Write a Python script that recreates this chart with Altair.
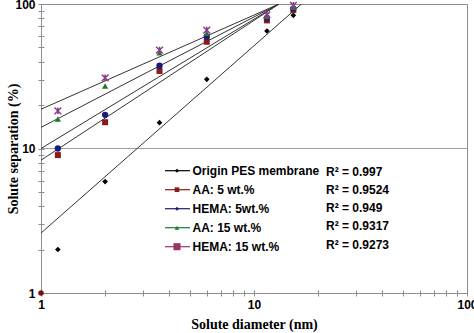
import altair as alt
import pandas as pd

# ---- data ----
sizes = [1.2, 2.0, 3.6, 6.0, 11.5, 15.3]
pes = [2.0, 5.9, 15.1, 30.1, 65.0, 83.5]
aa5 = [9.0, 15.2, 34.4, 54.8, 77.0, 91.0]
hema5 = [10.0, 17.1, 37.4, 59.4, 80.0, 93.0]
aa15 = [16.0, 27.1, 46.0, 62.7, 82.0, 95.0]
hema15 = [18.2, 30.8, 48.0, 66.0, 84.0, 98.0]

series_names = ["Origin PES membrane", "AA: 5 wt.%", "HEMA: 5wt.%", "AA: 15 wt.%", "HEMA: 15 wt.%"]
r_squared = ["0.997", "0.9524", "0.949", "0.9317", "0.9273"]
trend_y_at_1 = [2.6, 8.3, 10.0, 14.0, 18.7]
trend_x_at_100 = [16.7, 13.1, 13.1, 13.1, 13.1]
stray_x = [1.0]
stray_y = [1.0]
tick_values = [1, 2, 3, 4, 5, 6, 7, 8, 9, 10, 20, 30, 40, 50, 60, 70, 80, 90, 100]

# ---- styles ----
point_colors = ["#000000", "#8B1A1A", "#1C1C78", "#1E7B2E", "#8A3C8A"]
legend_colors = ["#000000", "#8B1A1A", "#1C1C78", "#1E7B2E", "#993366"]
star = "M-1,-1L1,1M1,-1L-1,1M0,-1L0,1"
point_shapes = ["diamond", "square", "circle", "triangle-up", star]
point_sizes = [32, 36, 40, 40, 45]
legend_shapes = ["diamond", "square", "diamond", "triangle-up", "square"]
legend_sizes = [16, 22, 16, 22, 50]
GRAY = "#8c8c8c"
SANS = "Liberation Sans"
SERIF = "Liberation Serif"

all_y = [pes, aa5, hema5, aa15, hema15]
pts = pd.DataFrame(
    [{"series": s, "x": x, "y": y} for s, ys in zip(series_names, all_y) for x, y in zip(sizes, ys)]
)
trend = pd.DataFrame(
    [r for s, y0, x1 in zip(series_names, trend_y_at_1, trend_x_at_100)
     for r in ({"series": s, "x": 1.0, "y": y0}, {"series": s, "x": x1, "y": 100.0})]
)
stray = pd.DataFrame({"x": stray_x, "y": stray_y})

xs = alt.Scale(type="log", domain=[1, 100])
ys = alt.Scale(type="log", domain=[1, 100])
label_expr = "(datum.value == 1 || datum.value == 10 || datum.value == 100) ? '' + datum.value : ''"

x_axis = alt.Axis(values=tick_values, labelExpr=label_expr, tickSize=3, tickColor=GRAY,
                  domainColor=GRAY, labelFont=SANS, labelFontWeight="bold", labelFontSize=12,
                  labelColor="#000", labelPadding=3, labelFlush=False, labelOverlap=False,
                  grid=False, title="Solute diameter (nm)", titleFont=SERIF, titleFontSize=14,
                  titleFontWeight="bold", titleColor="#000", titlePadding=7)
y_axis = alt.Axis(values=tick_values, labelExpr=label_expr, tickSize=3, tickColor=GRAY,
                  domainColor=GRAY, labelFont=SANS, labelFontWeight="bold", labelFontSize=12,
                  labelColor="#000", labelPadding=3, labelFlush=False, labelOverlap=False,
                  grid=False, title="Solute separation (%)", titleFont=SERIF, titleFontSize=14,
                  titleFontWeight="bold", titleColor="#000", titleX=-28, titleY=144.5,
                  titleAngle=270, titleAlign="center", titleBaseline="middle")
x_inner = alt.Axis(values=tick_values, labels=False, domain=False, tickSize=3, tickColor=GRAY,
                   offset=-3, orient="bottom", grid=False, title=None)
y_inner = alt.Axis(values=tick_values, labels=False, domain=False, tickSize=3, tickColor=GRAY,
                   offset=-3, orient="left", grid=False, title=None)

base_pts = alt.Chart(pts)

# axes layers
axes = base_pts.mark_point(opacity=0).encode(
    x=alt.X("x:Q", scale=xs, axis=x_axis), y=alt.Y("y:Q", scale=ys, axis=y_axis))
inner = base_pts.mark_point(opacity=0).encode(
    x=alt.X("x:Q", scale=xs, axis=x_inner), y=alt.Y("y:Q", scale=ys, axis=y_inner))

grid10 = alt.Chart(stray).mark_rule(color="#a0a0a0", strokeWidth=1).encode(
    y=alt.Y("g:Q", scale=ys, axis=None)).transform_calculate(g="10")

lines = alt.Chart(trend).mark_line(color="#333333", strokeWidth=1, clip=True).encode(
    x=alt.X("x:Q", scale=xs, axis=None), y=alt.Y("y:Q", scale=ys, axis=None),
    detail="series:N")

layers = [grid10, lines]
for name, col, shp, sz in zip(series_names, point_colors, point_shapes, point_sizes):
    is_star = shp == star
    mk = alt.Chart(pts).transform_filter(alt.datum.series == name).mark_point(
        shape=shp, filled=not is_star, size=sz, color=col, opacity=1,
        strokeWidth=1.5 if is_star else 1)
    layers.append(mk.encode(x=alt.X("x:Q", scale=xs, axis=None), y=alt.Y("y:Q", scale=ys, axis=None)))

layers.append(alt.Chart(stray).mark_circle(color="#7a1010", size=30, opacity=1).encode(
    x=alt.X("x:Q", scale=xs, axis=None), y=alt.Y("y:Q", scale=ys, axis=None)))

# ---- manual legend (pixel layout) ----
leg = pd.DataFrame({
    "series": series_names,
    "r2": ["R\u00b2 = " + r for r in r_squared],
    "i": list(range(len(series_names))),
    "color": legend_colors,
})
leg["py"] = 166.7 + leg["i"] * 19.0
leg["ry"] = 167.5 + leg["i"] * 18.3
leg["x0"] = 124.0
leg["x1"] = 149.0

legc = alt.Chart(leg)
layers.append(legc.mark_rule(strokeWidth=1.2).encode(
    x=alt.X("x0:Q", scale=None, axis=None), x2="x1:Q",
    y=alt.Y("py:Q", scale=None, axis=None),
    color=alt.Color("color:N", scale=None, legend=None)))
for name, col, shp, sz in zip(series_names, legend_colors, legend_shapes, legend_sizes):
    layers.append(alt.Chart(leg).transform_filter(alt.datum.series == name).mark_point(
        shape=shp, filled=True, size=sz, color=col, opacity=1).encode(
        x=alt.value(136.0), y=alt.Y("py:Q", scale=None, axis=None)))
layers.append(legc.mark_text(align="left", baseline="middle", font=SANS, fontWeight="bold",
                             fontSize=12, color="#000").encode(
    x=alt.value(151.5), y=alt.Y("py:Q", scale=None, axis=None), text="series:N"))
layers.append(legc.mark_text(align="left", baseline="middle", font=SANS, fontWeight="bold",
                             fontSize=12, color="#000").encode(
    x=alt.value(285.0), y=alt.Y("ry:Q", scale=None, axis=None), text="r2:N"))

layers += [axes, inner]

chart = alt.layer(*layers).resolve_axis(x="independent", y="independent").properties(
    width=426, height=289,
    autosize=alt.AutoSizeParams(type="none"),
    padding={"left": 41, "top": 4, "right": 7, "bottom": 40},
    background="white",
).configure_view(stroke=GRAY, strokeWidth=1)

chart.save("out.html", embed_options={"renderer": "svg", "actions": False})
